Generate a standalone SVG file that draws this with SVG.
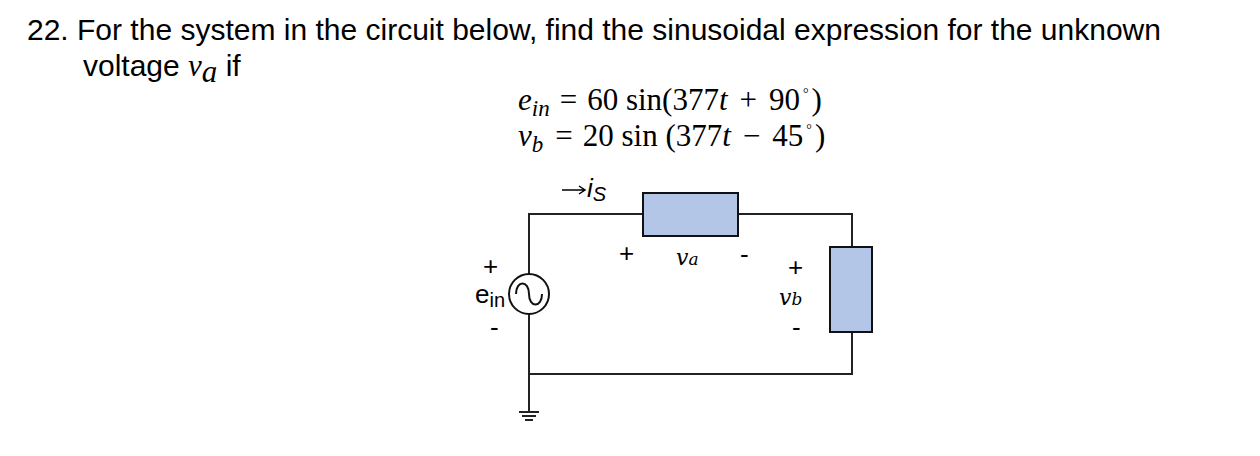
<svg xmlns="http://www.w3.org/2000/svg" width="1260" height="456" viewBox="0 0 1260 456">
<style>
.t{font-family:"Liberation Sans",Arial,sans-serif;font-size:30px;fill:#000}
.m{font-family:"Liberation Serif","Times New Roman",serif;font-size:31px;fill:#000}
.w{stroke:#222;stroke-width:2;fill:none}
.box{fill:#b4c6e7;stroke:#111;stroke-width:2}
.p{font-family:"Liberation Sans",Arial,sans-serif;font-size:26px;fill:#000}
.c{font-family:"DejaVu Serif",serif;font-style:italic;font-size:22px;fill:#000}
</style>
<rect width="1260" height="456" fill="#fff"/>
<text class="t" x="27" y="40">22. For the system in the circuit below, find the sinusoidal expression for the unknown</text>
<text class="t" x="83" y="76">voltage <tspan class="m" font-style="italic">v</tspan><tspan class="m" font-style="italic" font-size="22" dy="6">a</tspan><tspan dy="-6"> if</tspan></text>
<text class="m" x="518" y="110"><tspan font-style="italic">e</tspan><tspan font-style="italic" font-size="23" dy="6">in</tspan><tspan dx="10" dy="-6">=</tspan><tspan dx="10">60 sin(377</tspan><tspan font-style="italic">t</tspan><tspan dx="12">+</tspan><tspan dx="12">90</tspan><tspan font-size="14" dx="3" dy="-12">°</tspan><tspan dx="3" dy="12">)</tspan></text>
<text class="m" x="518" y="146"><tspan font-style="italic">v</tspan><tspan font-style="italic" font-size="23" dy="6">b</tspan><tspan dx="12" dy="-6">=</tspan><tspan dx="10">20 sin (377</tspan><tspan font-style="italic">t</tspan><tspan dx="12">−</tspan><tspan dx="12">45</tspan><tspan font-size="14" dx="3" dy="-12">°</tspan><tspan dx="3" dy="12">)</tspan></text>
<g id="connectors">
<path class="w" d="M643 214H529V274M529 314V412M529 374H852V332M852 247V214H738"/>
<path class="w" d="M519 412H539M522 416H536M525 420H533"/>
</g>
<g id="source"><circle cx="529" cy="294" r="20" fill="#fff" stroke="#111" stroke-width="2"/>
<path d="M516 294C516 280 529 280 529 294S542 308 542 294" fill="none" stroke="#111" stroke-width="2"/></g>
<g id="za"><rect class="box" x="643" y="193" width="95" height="43"/></g>
<g id="zb"><rect class="box" x="830" y="247" width="42" height="85"/></g>
<path d="M562 190H584M579 186L585 190L579 194" fill="none" stroke="#000" stroke-width="1.5"/>
<text class="p" x="587" y="197" font-style="italic" font-size="26">i<tspan font-size="20" dy="4">S</tspan></text>
<text class="p" x="483" y="275">+</text>
<text class="p" x="475" y="303">e<tspan font-size="20" dy="4">in</tspan></text>
<text class="p" x="490" y="336">-</text>
<text class="p" x="619" y="262">+</text>
<text class="c" x="676" y="265">v<tspan font-size="17">a</tspan></text>
<text class="p" x="740" y="263">-</text>
<text class="p" x="788" y="276">+</text>
<text class="c" x="779" y="305">v<tspan font-size="17">b</tspan></text>
<text class="p" x="792" y="336">-</text>
</svg>
